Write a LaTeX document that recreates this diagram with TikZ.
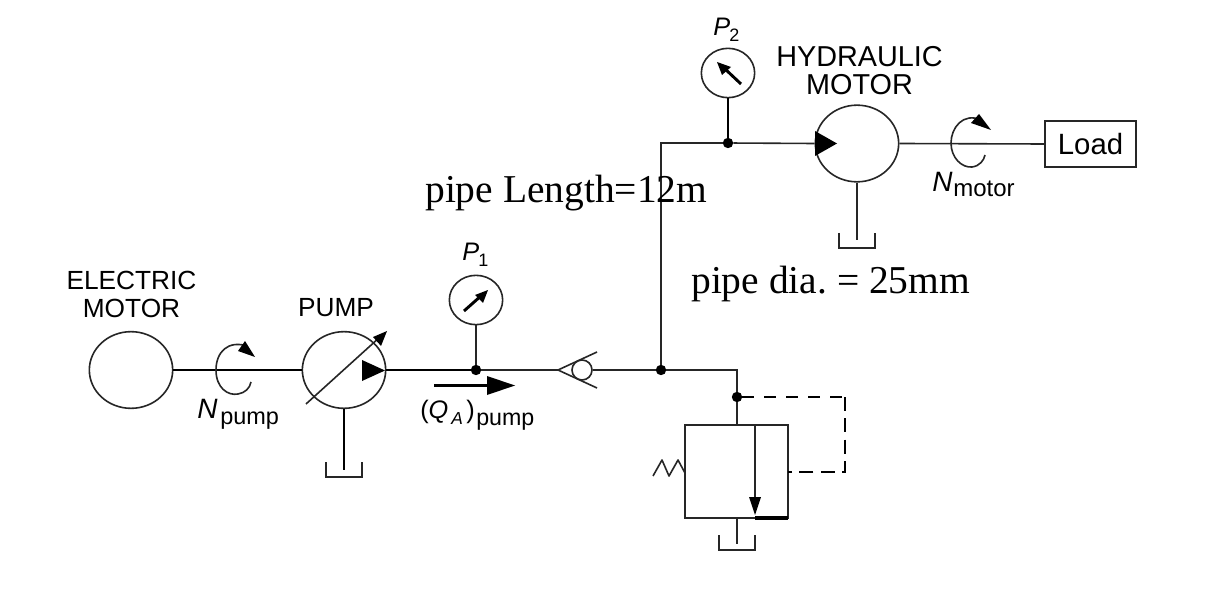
\documentclass[tikz,border=0pt]{standalone}
\usepackage{fontspec}
\setmainfont{Liberation Serif}
\newfontfamily\lsans{Liberation Sans}
\usetikzlibrary{shapes.geometric,calc}
\frenchspacing
\tikzset{
  thinl/.style={line width=1.2pt,black!85},
  thickl/.style={line width=2.1pt,black},
  circ/.style={ellipse,draw,line width=1.2pt,inner sep=0pt,black!85},
  motorc/.style={circ,minimum width=62.5pt,minimum height=57.5pt},
  gaugec/.style={circ,minimum width=40pt,minimum height=37pt},
  dotn/.style={circle,fill=black,inner sep=0pt,minimum size=7.8pt},
  caps/.style={font=\lsans\fontsize{19.7}{20}\selectfont,align=center,inner sep=0pt,text=black},
  sym/.style={font=\lsans\fontsize{19}{20}\selectfont,inner sep=0pt,anchor=base west,text=black},
  serif/.style={font=\fontsize{29.6}{30}\selectfont,inner sep=0pt,anchor=base west},
  tri/.style={fill=black,draw=none}
}
\newcommand{\tanksym}[2]{% anchor: stem x, top y
  \draw[thinl] (#1-18,#2) -- (#1-18,#2+15) -- (#1+18,#2+15) -- (#1+18,#2);
}
\begin{document}
\begin{tikzpicture}[x=0.75pt,y=-0.75pt]
\useasboundingbox (0,0) rectangle (1220,598);
\fill[white] (0,0) rectangle (1220,598);

% nodes
\node[motorc] (emotor) at (131,370) {};
\node[motorc] (pump) at (344,370) {};
\node[motorc] (hmotor) at (857,143.5) {};
\node[gaugec] (g1) at (476,300) {};
\node[gaugec] (g2) at (728,73) {};
\node[draw,line width=1.5pt,black!85,minimum width=68pt,minimum height=34.5pt,inner sep=0pt] (load) at (1090.5,144) {};
\node[caps,font=\lsans\fontsize{22}{22}\selectfont] at (1090.5,144) {Load};
\node[dotn] (j1) at (476,370) {};
\node[dotn] (j2) at (661,370) {};
\node[dotn] (j3) at (728,143) {};
\node[dotn] (j4) at (737,397) {};
\node[draw,line width=1.2pt,black!85,minimum width=77pt,minimum height=69.5pt,inner sep=0pt] (relief) at (736.5,471.5) {};
\node[circle,draw,line width=1.2pt,black!85,inner sep=0pt,minimum size=15pt] (ball) at (582,370) {};
\coordinate (apex) at (558,370);
\coordinate (corner1) at (661,143);
\coordinate (corner2) at (737,370);
\coordinate (pt) at (344,470);
\coordinate (ht) at (857,240);
\coordinate (rt) at (737,544);
\coordinate (drc) at (845,397);
\coordinate (drd) at (845,472);

% connectors
\draw[thickl] (emotor.east) -- (pump.west);
\draw[thickl] (pump.east) -- (j1);
\draw[thinl] (j1) -- (apex);
\draw[thinl] (ball.east) -- (j2);
\draw[thinl] (g1.south) -- (j1);
\draw[thinl] (j2) -- (corner1) -- (j3);
\draw[thinl] (j3) -- (hmotor.west);
\draw[thickl] (g2.south) -- (j3);
\draw[thinl] (hmotor.east) -- (load.west);
\draw[thinl] (j2) -- (corner2) -- (j4);
\draw[thinl] (j4) -- (737,425);
\draw[thickl] (pump.south) -- (pt);
\draw[thinl] (hmotor.south) -- (ht);
\draw[thinl] (737,518) -- (rt);
\draw[line width=2.1pt,dash pattern=on 9pt off 7.5pt] (j4) -- (drc);
\draw[line width=1.1pt,dash pattern=on 10.5pt off 5.5pt] (drc) -- (drd) -- (788,472);

% tanks
\tanksym{344}{462}
\tanksym{857}{233}
\tanksym{737}{535}

% pump variable arrow and triangles
\draw[thinl] (306,404) -- (380,337);
\fill[tri] (387,331) -- (373,337) -- (381,346) -- cycle;
\fill[tri] (362,360) -- (385,370.5) -- (362,381) -- cycle;
\fill[tri] (815,131) -- (837,143.5) -- (815,156) -- cycle;

% check valve
\draw[thinl] (597,352) -- (apex) -- (597,388);

% gauge needles
\draw[line width=2.2pt] (464,311) -- (482,295);
\fill[tri] (488,290) -- (475,295) -- (483,303) -- cycle;
\draw[line width=2.2pt] (741,84) -- (724,68);
\fill[tri] (717,62) -- (722,75) -- (731,67) -- cycle;

% flow arrow
\draw[thickl] (434,385.5) -- (490,385.5);
\fill[tri] (487,376) -- (515,385.5) -- (487,395) -- cycle;

% rotation symbols
\draw[line width=1.2pt,black!85] (247,346) .. controls (228,340) and (216,352) .. (216,370) .. controls (216,388) and (228,396) .. (238,394) .. controls (245,393) and (250,388) .. (251,382);
\fill[tri] (255,357) -- (238,351) -- (245,341) -- cycle;
\draw[line width=1.2pt,black!85] (981,120) .. controls (963,112) and (951,128) .. (951,143) .. controls (951,158) and (962,168) .. (972,167) .. controls (980,166) and (984,160) .. (985,155);
\fill[tri] (991,130) -- (971,123) -- (979,114) -- cycle;

% relief valve
\draw[thinl] (755,425) -- (755,500);
\fill[tri] (749,497) -- (761,497) -- (755,515) -- cycle;
\draw[line width=2.4pt] (755,518) -- (788,518);
\draw[thinl,line join=round] (653,476) -- (662,460) -- (669,476) -- (678,460) -- (685,473);

% labels
\node[caps] at (131.5,294) {ELECTRIC\\[1pt]MOTOR};
\node[caps] at (336,308) {PUMP};
\node[caps,font=\lsans\fontsize{21.6}{21}\selectfont] at (859.5,71) {HYDRAULIC\\[0pt]MOTOR};
\node[sym] at (462,261) {\textit{P}};
\node[sym,font=\lsans\fontsize{13.5}{14}\selectfont] at (478,267) {1};
\node[sym] at (713,36) {\textit{P}};
\node[sym,font=\lsans\fontsize{13.5}{14}\selectfont] at (729,42) {2};
\node[sym,font=\lsans\fontsize{21}{22}\selectfont] at (197,418) {\textit{N}};
\node[sym,font=\lsans\fontsize{17.6}{18}\selectfont] at (220,424) {pump};
\node[sym,font=\lsans\fontsize{21}{22}\selectfont] at (932,192) {\textit{N}};
\node[sym,font=\lsans\fontsize{18}{18}\selectfont] at (953,197) {motor};
\node[sym,font=\lsans\fontsize{19}{20}\selectfont] at (420,418) {(\textit{Q}};
\node[sym,font=\lsans\fontsize{13}{14}\selectfont] at (451,424) {\textit{A}};
\node[sym,font=\lsans\fontsize{19}{20}\selectfont] at (466,418) {)};
\node[sym,font=\lsans\fontsize{17.4}{18}\selectfont] at (476,425) {pump};
\node[serif] at (425,203) {pipe Length=12m};
\node[serif] at (691,294) {pipe dia. = 25mm};
\end{tikzpicture}
\end{document}
